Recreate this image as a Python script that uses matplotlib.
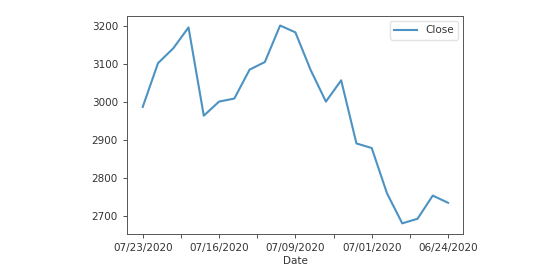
import matplotlib
matplotlib.use('Agg')
import matplotlib.pyplot as plt
import numpy as np

dates = ['07/23/2020', '07/22/2020', '07/21/2020', '07/20/2020', '07/17/2020',
         '07/16/2020', '07/15/2020', '07/14/2020', '07/13/2020', '07/10/2020',
         '07/09/2020', '07/08/2020', '07/07/2020', '07/06/2020', '07/02/2020',
         '07/01/2020', '06/30/2020', '06/29/2020', '06/26/2020', '06/25/2020',
         '06/24/2020']
close = [2987, 3102, 3141, 3196, 2964, 3001, 3009, 3085, 3105, 3201,
         3183, 3084, 3001, 3057, 2891, 2879, 2760, 2681, 2693, 2754, 2735]

fig = plt.figure(figsize=(5.54, 2.75), dpi=100)
ax = fig.add_axes([127 / 554, 1 - 234 / 275, (463 - 127) / 554, (234 - 16) / 275])

x = np.arange(len(dates))
ax.plot(x, close, color='#1f77b4', lw=1.5, label='Close', alpha=0.8)
ax.set_xlim(-1.03, len(dates) - 1 + 0.98)
ax.set_ylim(2653, 3226)

major = x[::5]
ax.set_xticks(major)
ax.set_xticklabels([dates[i] for i in major])
ax.set_xticks(np.arange(2.5, len(dates), 5), minor=True)
ax.set_yticks([2700, 2800, 2900, 3000, 3100, 3200])
ax.tick_params(labelsize=7.5, colors='#333333', length=3, width=0.6)
ax.tick_params(which='minor', length=3, width=0.6, color='#333333')
ax.set_xlabel('Date', fontsize=7.5, color='#333333', labelpad=2)
for s in ax.spines.values():
    s.set_color('#555555')
    s.set_linewidth(0.7)

ax.legend(loc='upper right', fontsize=7.5, handlelength=2.2, framealpha=0.8,
          edgecolor='#dddddd', labelcolor='#333333')

fig.savefig('out.png', dpi=100)
